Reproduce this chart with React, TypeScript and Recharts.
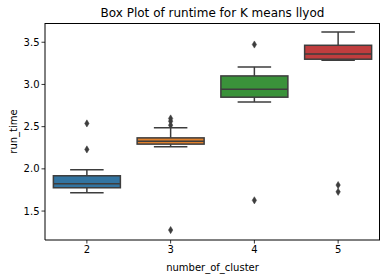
import React from 'react';
import { ComposedChart, Bar, Scatter, XAxis, YAxis } from 'recharts';

const categories = ['2', '3', '4', '5'];
const whiskerLow = [1.717, 2.261, 2.793, 3.287];
const q1 = [1.776, 2.293, 2.849, 3.299];
const median = [1.823, 2.328, 2.944, 3.362];
const q3 = [1.918, 2.367, 3.101, 3.464];
const whiskerHigh = [1.989, 2.486, 3.208, 3.622];
const boxColors = ['#3274a1', '#e1812c', '#3a923a', '#c03d3e'];

const outlierCategories = ['2', '2', '3', '3', '3', '3', '4', '4', '5', '5'];
const outlierValues = [2.538, 2.23, 2.597, 2.565, 2.518, 1.275, 3.473, 1.627, 1.808, 1.728];

const yTicks = [1.5, 2.0, 2.5, 3.0, 3.5];

const data = categories.map((c, i) => ({
  cat: c,
  range: [whiskerLow[i], whiskerHigh[i]],
  lo: whiskerLow[i],
  q1: q1[i],
  med: median[i],
  q3: q3[i],
  hi: whiskerHigh[i],
  color: boxColors[i],
}));

const outliers = outlierCategories.map((c, i) => ({ cat: c, v: outlierValues[i] }));

const LINE = '#3d3d3d';

const BoxShape = (props: any) => {
  const { x, y, width, height, payload } = props;
  if (!payload) return null;
  const top = Math.min(y, y + height);
  const bottom = Math.max(y, y + height);
  const span = payload.hi - payload.lo;
  const py = (v: number) => top + ((payload.hi - v) / span) * (bottom - top);
  const cx = x + width / 2;
  const capW = width / 2;
  const yq1 = py(payload.q1);
  const yq3 = py(payload.q3);
  const ym = py(payload.med);
  return (
    <g>
      <line x1={cx} x2={cx} y1={top} y2={yq3} stroke={LINE} strokeWidth={1.5} />
      <line x1={cx} x2={cx} y1={yq1} y2={bottom} stroke={LINE} strokeWidth={1.5} />
      <line x1={cx - capW / 2} x2={cx + capW / 2} y1={top} y2={top} stroke={LINE} strokeWidth={1.5} />
      <line x1={cx - capW / 2} x2={cx + capW / 2} y1={bottom} y2={bottom} stroke={LINE} strokeWidth={1.5} />
      <rect x={x} y={yq3} width={width} height={yq1 - yq3} fill={payload.color} stroke={LINE} strokeWidth={1.5} />
      <line x1={x} x2={x + width} y1={ym} y2={ym} stroke={LINE} strokeWidth={1.5} />
    </g>
  );
};

const Diamond = (props: any) => {
  const { cx, cy } = props;
  if (cx == null || cy == null || isNaN(cy)) return null;
  const w = 2.2;
  const h = 3.6;
  return (
    <polygon
      points={`${cx},${cy - h} ${cx + w},${cy} ${cx},${cy + h} ${cx - w},${cy}`}
      fill={LINE}
      stroke={LINE}
      strokeWidth={0.5}
    />
  );
};

const FONT = 'DejaVu Sans, sans-serif';
const tickStyle = { fontSize: 10, fill: '#000', fontFamily: FONT };

export default function App() {
  return (
    <div style={{ position: 'absolute', left: 0, top: 0, width: 387, height: 279, background: '#fff' }}>
      <div
        style={{
          position: 'absolute',
          left: 45,
          width: 335,
          top: 6,
          textAlign: 'center',
          fontFamily: FONT,
          fontSize: 12,
          lineHeight: '14px',
          color: '#000',
          whiteSpace: 'nowrap',
        }}
      >
        Box Plot of runtime for K means llyod
      </div>
      <ComposedChart
        width={387}
        height={279}
        data={data}
        margin={{ top: 23, right: 7, left: 0, bottom: 0 }}
        barCategoryGap="10%"
      >
        <XAxis
          dataKey="cat"
          type="category"
          allowDuplicatedCategory={false}
          height={39}
          tick={tickStyle}
          tickSize={3.5}
          tickMargin={2}
          axisLine={{ stroke: '#000', strokeWidth: 1 }}
          tickLine={{ stroke: '#000', strokeWidth: 0.8 }}
          label={{ value: 'number_of_cluster', position: 'insideBottom', offset: 8, style: { fontSize: 10, fill: '#000', fontFamily: FONT } }}
        />
        <YAxis
          type="number"
          domain={[1.157, 3.728]}
          allowDataOverflow
          ticks={yTicks}
          width={45}
          tick={tickStyle}
          tickSize={3.5}
          tickMargin={2}
          tickFormatter={(v: number) => v.toFixed(1)}
          axisLine={{ stroke: '#000', strokeWidth: 1 }}
          tickLine={{ stroke: '#000', strokeWidth: 0.8 }}
          label={{ value: 'run_time', angle: -90, position: 'center', dx: -9, style: { fontSize: 10, fill: '#000', fontFamily: FONT } }}
        />
        <Bar dataKey="range" shape={<BoxShape />} isAnimationActive={false} />
        <Scatter data={outliers} dataKey="v" shape={<Diamond />} isAnimationActive={false} />
      </ComposedChart>
      <div
        style={{
          position: 'absolute',
          left: 45,
          top: 22.5,
          width: 335,
          height: 217.5,
          borderTop: '1px solid #000',
          borderRight: '1px solid #000',
          boxSizing: 'border-box',
          pointerEvents: 'none',
        }}
      />
    </div>
  );
}
